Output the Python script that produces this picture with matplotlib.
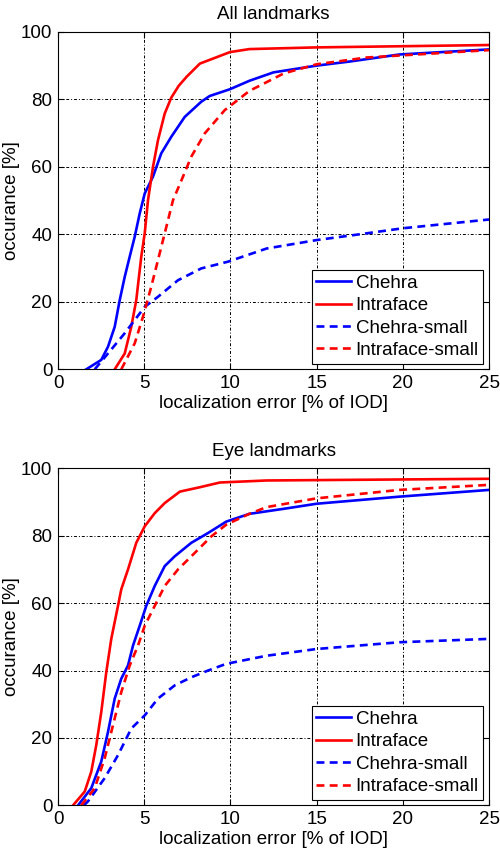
import matplotlib
matplotlib.use("Agg")
import matplotlib.pyplot as plt

plt.rcParams['font.family'] = ['Liberation Sans', 'DejaVu Sans']

# ---- All landmarks ----
all_chehra_x = [1.64, 2.51, 2.9, 3.29, 3.58, 3.87, 4.16, 4.45, 4.74, 5.03, 5.51, 5.99, 6.57, 7.35, 8.31, 8.8, 9.97, 11.1, 12.5, 15, 16.9, 19.8, 25]
all_chehra_y = [0, 2.8, 6.7, 12.6, 20.5, 27.4, 33.4, 39.3, 46.2, 52.1, 57.1, 64, 68.9, 74.8, 79.3, 81.0, 83.0, 85.5, 88.0, 90.0, 91.2, 93.3, 94.8]

all_intra_x = [3.29, 3.87, 4.25, 4.54, 4.83, 5.03, 5.22, 5.51, 5.8, 6.19, 6.57, 7.0, 7.46, 8.23, 9.0, 9.97, 11.1, 15, 25]
all_intra_y = [0, 4.7, 12.6, 20.5, 33.4, 40.3, 50.1, 60, 67.9, 75.8, 80.5, 84.0, 86.7, 90.6, 92.1, 94.0, 94.9, 95.4, 96.1]

all_chehra_s_x = [2.13, 2.9, 3.87, 5.03, 5.8, 6.96, 8.31, 9.86, 12.1, 15, 17.9, 20, 25]
all_chehra_s_y = [0, 4.7, 10.7, 18.5, 21.5, 26.4, 29.9, 31.9, 35.8, 38.3, 40.3, 41.8, 44.4]

all_intra_s_x = [3.67, 4.45, 4.93, 5.41, 5.8, 6.19, 6.67, 7.25, 7.73, 8.51, 9.67, 11.1, 13.1, 15, 17.9, 25]
all_intra_s_y = [0, 7.7, 15.6, 24.5, 32.4, 40.3, 50.1, 57.1, 63, 69.9, 76.8, 82.5, 87.7, 90.4, 92.4, 94.6]

# ---- Eye landmarks ----
eye_chehra_x = [1.16, 1.93, 2.51, 2.9, 3.29, 3.67, 4.06, 4.35, 4.74, 5.12, 5.61, 6.19, 6.77, 7.73, 8.7, 9.76, 11.1, 13.1, 15, 19.8, 25]
eye_chehra_y = [0, 5.1, 13, 21.8, 31.7, 37.6, 41.5, 47.4, 53.3, 59.2, 65.1, 71, 73.9, 77.9, 80.8, 84.2, 86.5, 88.0, 89.5, 91.6, 93.6]

eye_intra_x = [0.87, 1.55, 1.93, 2.22, 2.51, 2.8, 3.09, 3.48, 3.67, 4.06, 4.54, 5.03, 5.61, 6.19, 7.07, 8.23, 9.39, 12.1, 25]
eye_intra_y = [0, 4.1, 10, 17.9, 27.7, 39.5, 49.4, 59.2, 64.1, 70, 77.9, 82.8, 86.7, 89.7, 93.1, 94.4, 95.8, 96.4, 96.9]

eye_chehra_s_x = [1.5, 1.74, 2.71, 3.48, 4.25, 5.03, 5.8, 6.77, 7.73, 8.7, 9.76, 12.1, 15, 19.8, 25]
eye_chehra_s_y = [0, 1.2, 8.1, 14.9, 22.8, 26.7, 31.7, 35.6, 38, 40, 42, 44.4, 46.4, 48.4, 49.4]

eye_intra_s_x = [1.35, 2.13, 2.71, 3.19, 3.67, 4.16, 4.64, 5.03, 5.61, 6.19, 6.96, 7.93, 8.89, 9.76, 11.1, 12.1, 15, 19.8, 25]
eye_intra_s_y = [0, 5.1, 14, 23.8, 33.6, 41.5, 47.4, 53.3, 59.2, 65.1, 70, 74.9, 79.8, 83.3, 86.5, 88.5, 91.1, 93.6, 95.1]

labels = ['Chehra', 'Intraface', 'Chehra-small', 'Intraface-small']
titles = ['All landmarks', 'Eye landmarks']
xticks = [0, 5, 10, 15, 20, 25]
yticks = [0, 20, 40, 60, 80, 100]

panels = [
    [(all_chehra_x, all_chehra_y), (all_intra_x, all_intra_y),
     (all_chehra_s_x, all_chehra_s_y), (all_intra_s_x, all_intra_s_y)],
    [(eye_chehra_x, eye_chehra_y), (eye_intra_x, eye_intra_y),
     (eye_chehra_s_x, eye_chehra_s_y), (eye_intra_s_x, eye_intra_s_y)],
]
colors = ['#0000ff', '#ff0000', '#0000ff', '#ff0000']
styles = ['-', '-', '--', '--']

fig = plt.figure(figsize=(5, 8.5), dpi=100)
rects = [[0.116, 0.5655, 0.862, 0.397], [0.116, 0.0525, 0.862, 0.3965]]

for rect, series, title in zip(rects, panels, titles):
    ax = fig.add_axes(rect)
    for (xs, ys), c, ls, lab in zip(series, colors, styles, labels):
        if ls == '--':
            ax.plot(xs, ys, color=c, linewidth=1.9, label=lab, dashes=(3, 2))
        else:
            ax.plot(xs, ys, color=c, linestyle='-', linewidth=1.9, label=lab)
    ax.set_xlim(0, 25)
    ax.set_ylim(0, 100)
    ax.set_xticks(xticks)
    ax.set_yticks(yticks)
    ax.grid(True, color='black', linewidth=0.7, dashes=(3, 2, 1, 2))
    ax.tick_params(direction='in', length=4, top=True, right=True, labelsize=13.5, pad=4)
    for sp in ax.spines.values():
        sp.set_linewidth(0.8)
    ax.set_title(title, fontsize=13.5, pad=9)
    ax.set_xlabel('localization error [% of IOD]', fontsize=13.5, labelpad=2.5)
    ax.set_ylabel('occurance [%]', fontsize=13.5, labelpad=1)
    leg = ax.legend(loc='lower right', fontsize=13.5, fancybox=False, framealpha=1,
                    edgecolor='black', handlelength=1.85, handletextpad=0.25,
                    borderaxespad=0.3, labelspacing=0.28, borderpad=0.25)
    leg.get_frame().set_linewidth(0.8)

fig.savefig('out.png', dpi=100)
